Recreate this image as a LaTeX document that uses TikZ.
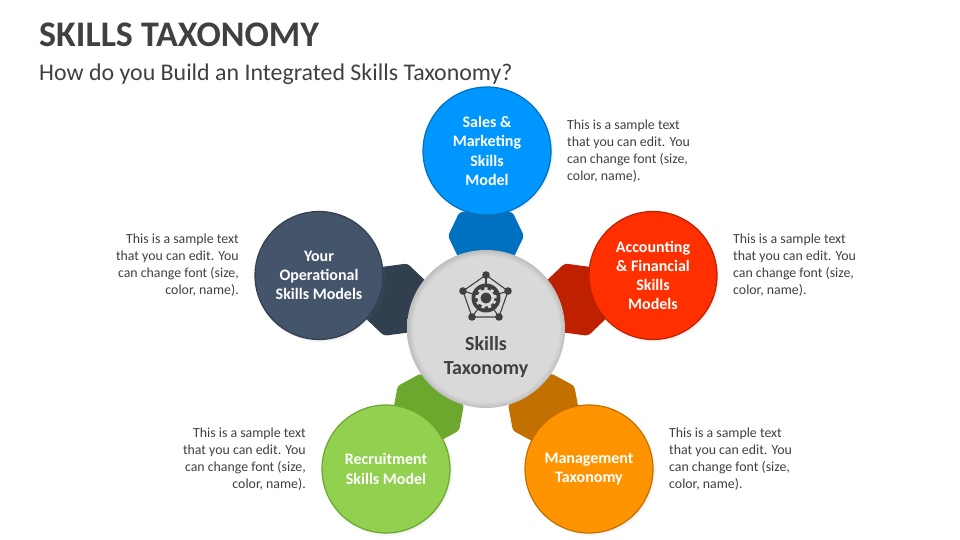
\documentclass[tikz,border=0pt]{standalone}
\usepackage{xcolor}
\usepackage{fontspec}
\setmainfont{Carlito}
\usetikzlibrary{arrows,shapes,calc,positioning,shadows}
\definecolor{inktitle}{HTML}{404040}
\definecolor{hubgray}{HTML}{D9D9D9}
\definecolor{hubedge}{HTML}{BDBDBD}
\definecolor{salesblue}{HTML}{0096FF}
\definecolor{salesdark}{HTML}{0070C0}
\definecolor{opsnavy}{HTML}{44546A}
\definecolor{opsdark}{HTML}{323F4F}
\definecolor{acctred}{HTML}{FF2F00}
\definecolor{acctdark}{HTML}{BF2000}
\definecolor{recrgreen}{HTML}{92D050}
\definecolor{recrdark}{HTML}{6CA82D}
\definecolor{mgmtorange}{HTML}{FF9300}
\definecolor{mgmtdark}{HTML}{C27000}
\pgfdeclareradialshading{hubshade}{\pgfpoint{0bp}{0bp}}{color(0bp)=(hubgray); color(23bp)=(hubgray); color(25bp)=(hubedge); color(50bp)=(hubedge)}
% one six-sided link, pointing up from the hub before it is turned
\newcommand{\hexlink}[3]{\draw [fill=#2, draw=none, rounded corners=3pt, rotate around={#1:(486,211)}, yshift=#3pt] (459.5,280) -- (448,304) -- (459.5,328) -- (512.5,328) -- (524,304) -- (512.5,280) -- cycle;}

\begin{document}
\begin{tikzpicture}[x=1pt,y=1pt]
	\tikzstyle{every node}=[inner sep=0pt]
	\tikzstyle{sat}=[circle, minimum size=128pt, line width=1.2pt, align=center, text=white, font=\fontsize{16}{19.2}\selectfont\bfseries, circular drop shadow={shadow scale=1.03, shadow xshift=1pt, shadow yshift=-1.5pt, opacity=0.35}]
	\tikzstyle{blurb}=[font=\fontsize{13.85}{17}\selectfont, text=inktitle]
	\tikzstyle{iconline}=[draw=inktitle, line width=1.1pt]
	\useasboundingbox (0,0) rectangle (960,540);
	\node [anchor=west, font=\fontsize{36}{40}\selectfont\bfseries, text=inktitle] (title) at (39,505) {SKILLS TAXONOMY};
	\node [anchor=west, font=\fontsize{23.9}{28}\selectfont, text=inktitle] (subtitle) at (39,466) {How do you Build an Integrated Skills Taxonomy?};
	\hexlink{0}{salesdark}{0}
	\hexlink{72}{opsdark}{2}
	\hexlink{-72}{acctdark}{2}
	\hexlink{144}{recrdark}{5}
	\hexlink{-144}{mgmtdark}{5}
	\node [sat, fill=salesblue, draw=salesdark] (sales) at (487,389) {Sales \&\\Marketing\\Skills\\Model};
	\node [sat, fill=opsnavy, draw=opsdark] (ops) at (319,264.5) {Your\\Operational\\Skills Models};
	\node [sat, fill=acctred, draw=acctdark] (acct) at (653,264.5) {Accounting\\\& Financial\\Skills\\Models};
	\node [sat, fill=recrgreen, draw=recrdark] (recr) at (386,71) {Recruitment\\Skills Model};
	\node [sat, fill=mgmtorange, draw=mgmtdark] (mgmt) at (589,71) {Management\\Taxonomy};
	\node [circle, minimum size=158pt, shading=hubshade] (hub) at (486,211) {};
	\node [align=center, text=inktitle, font=\fontsize{20}{24.5}\selectfont\bfseries] (hublabel) at (486,183) {Skills\\Taxonomy};
	% pentagon and gear icon
	\draw [iconline] (486,265) -- (508,249) -- (499,223) -- (472,223) -- (463,249) -- cycle;
	\draw [iconline] (486,265) -- (486,242);
	\draw [iconline] (508,249) -- (486,242);
	\draw [iconline] (463,249) -- (486,242);
	\draw [iconline] (499,223) -- (486,242);
	\draw [iconline] (472,223) -- (486,242);
	\fill [inktitle] (486,242) circle (14.5);
	\draw [hubgray, line width=2.5pt, dash pattern=on 3pt off 3.68pt] (486,242) circle (9.5);
	\draw [hubgray, line width=3pt] (486,242) circle (7);
	\fill [inktitle] (486,242) circle (4.2);
	\foreach \px/\py in {486/265,508/249,499/223,472/223,463/249}
		\fill [inktitle] (\px,\py) circle (3.8);
	\node [blurb, anchor=north west, align=left] (salestext) at (567,420) {This is a sample text\\that you can edit. You\\can change font (size,\\color, name).};
	\node [blurb, anchor=north east, align=right] (opstext) at (239,306) {This is a sample text\\that you can edit. You\\can change font (size,\\color, name).};
	\node [blurb, anchor=north west, align=left] (accttext) at (733,306) {This is a sample text\\that you can edit. You\\can change font (size,\\color, name).};
	\node [blurb, anchor=north east, align=right] (recrtext) at (306,112) {This is a sample text\\that you can edit. You\\can change font (size,\\color, name).};
	\node [blurb, anchor=north west, align=left] (mgmttext) at (669,112) {This is a sample text\\that you can edit. You\\can change font (size,\\color, name).};
\end{tikzpicture}
\end{document}
